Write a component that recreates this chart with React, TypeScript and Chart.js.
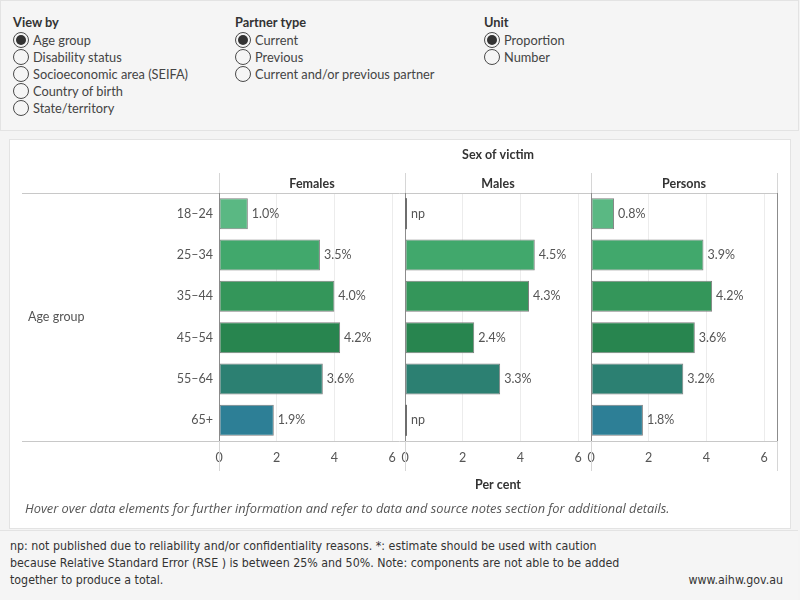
import React, { useEffect, useRef } from "react";
import Chart from "chart.js/auto";

const categories = ["18–24", "25–34", "35–44", "45–54", "55–64", "65+"];
const females: (number | null)[] = [1.0, 3.5, 4.0, 4.2, 3.6, 1.9];
const males: (number | null)[] = [null, 4.5, 4.3, 2.4, 3.3, null];
const persons: (number | null)[] = [0.8, 3.9, 4.2, 3.6, 3.2, 1.8];
const panelNames = ["Females", "Males", "Persons"];
const barColors = ["#5ab883", "#41a86c", "#34965a", "#28854f", "#2c8072", "#2d7f96"];
const xTicks = [0, 2, 4, 6];
const axisMax = 6.45;

const viewBy = ["Age group", "Disability status", "Socioeconomic area (SEIFA)", "Country of birth", "State/territory"];
const partnerType = ["Current", "Previous", "Current and/or previous partner"];
const unitOpts = ["Proportion", "Number"];

const FONT = "Lato, 'Noto Sans', sans-serif";
const NARROW = "'Liberation Sans Narrow', 'DejaVu Sans Condensed', sans-serif";

const panelPlugin = {
  id: "panelPlugin",
  beforeDatasetsDraw(chart: any) {
    const { ctx, chartArea } = chart;
    const { top, bottom, right } = chartArea;
    const ids = ["xF", "xM", "xP"];
    const edges = ids.map((id) => chart.scales[id].left);
    edges.push(chart.scales["xP"].right);
    ctx.save();
    ctx.strokeStyle = "#c8c8c8";
    ctx.lineWidth = 1;
    [top, bottom].forEach((y) => {
      ctx.beginPath();
      ctx.moveTo(12, Math.round(y) + 0.5);
      ctx.lineTo(right, Math.round(y) + 0.5);
      ctx.stroke();
    });
    edges.forEach((x) => {
      const px = Math.round(x) + 0.5;
      ctx.strokeStyle = "#d6d6d6";
      ctx.beginPath();
      ctx.moveTo(px, top - 20);
      ctx.lineTo(px, bottom + 30);
      ctx.stroke();
      ctx.strokeStyle = "#8c8c8c";
      ctx.beginPath();
      ctx.moveTo(px, top);
      ctx.lineTo(px, bottom);
      ctx.stroke();
    });
    ctx.restore();
  },
  afterDatasetsDraw(chart: any) {
    const { ctx } = chart;
    const yScale = chart.scales.y;
    const step = yScale.getPixelForTick(1) - yScale.getPixelForTick(0);
    const h = step * 0.75;
    ctx.save();
    ctx.font = `12.5px ${FONT}`;
    ctx.fillStyle = "#555";
    ctx.textBaseline = "middle";
    ctx.textAlign = "left";
    chart.data.datasets.forEach((ds: any, di: number) => {
      const meta = chart.getDatasetMeta(di);
      const xs = chart.scales[ds.xAxisID];
      ds.data.forEach((v: number | null, i: number) => {
        const y = yScale.getPixelForValue(i);
        if (v === null || v === undefined) {
          const base = xs.getPixelForValue(0);
          ctx.fillStyle = "#6e6e6e";
          ctx.fillRect(base, y - h / 2, 2, h);
          ctx.fillStyle = "#555";
          ctx.fillText("np", base + 6, y);
        } else {
          const el = meta.data[i];
          ctx.fillText(v.toFixed(1) + "%", el.x + 4, y);
        }
      });
    });
    ctx.restore();
  },
  afterDraw(chart: any) {
    const { ctx, chartArea } = chart;
    const { top, bottom, left, right } = chartArea;
    ctx.save();
    ctx.fillStyle = "#333";
    ctx.textBaseline = "middle";
    ctx.textAlign = "center";
    ctx.font = `bold 12.5px ${FONT}`;
    ctx.fillText("Sex of victim", (left + right) / 2, top - 38);
    ["xF", "xM", "xP"].forEach((id, k) => {
      const s = chart.scales[id];
      ctx.fillText(panelNames[k], (s.left + s.right) / 2, top - 9);
    });
    ctx.fillText("Per cent", (left + right) / 2, bottom + 44);
    ctx.font = `12.5px ${FONT}`;
    ctx.fillStyle = "#555";
    ctx.textAlign = "left";
    ctx.fillText("Age group", 18, (top + bottom) / 2);
    ctx.restore();
  },
};

function xAxis() {
  return {
    type: "linear" as const,
    position: "bottom" as const,
    stack: "sex",
    min: 0,
    max: axisMax,
    afterFit: (s: any) => {
      s.height = 87;
    },
    afterBuildTicks: (s: any) => {
      s.ticks = xTicks.map((v) => ({ value: v }));
    },
    grid: { color: "#ececec", drawTicks: false },
    border: { display: false },
    ticks: {
      color: "#555",
      padding: 9,
      font: { family: FONT, size: 12.5 },
      maxRotation: 0,
      autoSkip: false,
    },
  };
}

function BarChart() {
  const ref = useRef<HTMLCanvasElement>(null);
  useEffect(() => {
    if (!ref.current) return;
    const mk = (label: string, data: (number | null)[], axis: string) => ({
      label,
      data,
      xAxisID: axis,
      yAxisID: "y",
      grouped: false,
      backgroundColor: barColors,
      borderColor: "#7f7f7f",
      borderWidth: 1,
      borderSkipped: false,
      categoryPercentage: 1,
      barPercentage: 0.75,
    });
    const chart = new Chart(ref.current, {
      type: "bar",
      data: {
        labels: categories,
        datasets: [mk("Females", females, "xF"), mk("Males", males, "xM"), mk("Persons", persons, "xP")],
      },
      options: {
        indexAxis: "y",
        animation: false,
        responsive: false,
        layout: { padding: { top: 53, right: 13, left: 0, bottom: 0 } },
        plugins: { legend: { display: false }, tooltip: { enabled: false } },
        scales: {
          xF: xAxis(),
          xM: xAxis(),
          xP: xAxis(),
          y: {
            type: "category",
            position: "left",
            afterFit: (s: any) => {
              s.width = 209;
            },
            grid: { display: false, drawTicks: false },
            border: { display: false },
            ticks: { color: "#555", padding: 6, font: { family: FONT, size: 12.5 } },
          },
        },
      } as any,
      plugins: [panelPlugin],
    });
    return () => chart.destroy();
  }, []);
  return (
    <canvas
      ref={ref}
      width={780}
      height={388}
      style={{ position: "absolute", left: 10, top: 140, width: 780, height: 388 }}
    />
  );
}

function Radio({ label, checked, left, top }: { label: string; checked: boolean; left: number; top: number }) {
  return (
    <div style={{ position: "absolute", left, top: top - 9, height: 18, display: "flex", alignItems: "center" }}>
      <div
        style={{
          width: 14,
          height: 14,
          borderRadius: "50%",
          border: "1px solid #4a4a4a",
          boxSizing: "content-box",
          position: "relative",
          background: "transparent",
        }}
      >
        {checked && (
          <div
            style={{
              position: "absolute",
              left: 2,
              top: 2,
              width: 10,
              height: 10,
              borderRadius: "50%",
              background: "#333",
            }}
          />
        )}
      </div>
      <span style={{ marginLeft: 4, fontSize: 12.8, color: "#444", whiteSpace: "nowrap" }}>{label}</span>
    </div>
  );
}

function Group({ title, items, left }: { title: string; items: string[]; left: number }) {
  return (
    <>
      <div style={{ position: "absolute", left, top: 14, fontSize: 12.8, fontWeight: 700, color: "#333" }}>{title}</div>
      {items.map((it, i) => (
        <Radio key={it} label={it} checked={i === 0} left={left} top={40 + i * 17} />
      ))}
    </>
  );
}

export default function App() {
  return (
    <div
      style={{
        position: "absolute",
        left: 0,
        top: 0,
        width: 800,
        height: 600,
        background: "#f4f4f4",
        fontFamily: FONT,
        overflow: "hidden",
      }}
    >
      <div
        style={{
          position: "absolute",
          left: 0,
          top: 0,
          width: 797,
          height: 129,
          border: "1px solid #e3e3e3",
          background: "#f5f5f5",
        }}
      />
      <Group title="View by" items={viewBy} left={13} />
      <Group title="Partner type" items={partnerType} left={235} />
      <Group title="Unit" items={unitOpts} left={484} />
      <div
        style={{
          position: "absolute",
          left: 9,
          top: 139,
          width: 780,
          height: 388,
          border: "1px solid #e3e3e3",
          background: "#fff",
        }}
      />
      <BarChart />
      <div
        style={{
          position: "absolute",
          left: 25,
          top: 499,
          fontFamily: "'Open Sans', Lato, sans-serif",
          fontSize: 12.8,
          fontStyle: "italic",
          color: "#555",
          whiteSpace: "nowrap",
        }}
      >
        Hover over data elements for further information and refer to data and source notes section for additional details.
      </div>
      <div
        style={{
          position: "absolute",
          left: 0,
          top: 530,
          width: 798,
          height: 69,
          borderTop: "1px solid #e3e3e3",
          background: "#f5f5f5",
        }}
      />
      <div
        style={{
          position: "absolute",
          left: 10,
          top: 538,
          fontFamily: NARROW,
          fontSize: 12.3,
          lineHeight: "17px",
          color: "#333",
          whiteSpace: "nowrap",
        }}
      >
        <div>np: not published due to reliability and/or confidentiality reasons. *: estimate should be used with caution</div>
        <div>because Relative Standard Error (RSE ) is between 25% and 50%. Note: components are not able to be added</div>
        <div>together to produce a total.</div>
      </div>
      <div
        style={{
          position: "absolute",
          right: 17,
          top: 573,
          fontFamily: NARROW,
          fontSize: 12.3,
          color: "#333",
        }}
      >
        www.aihw.gov.au
      </div>
    </div>
  );
}
